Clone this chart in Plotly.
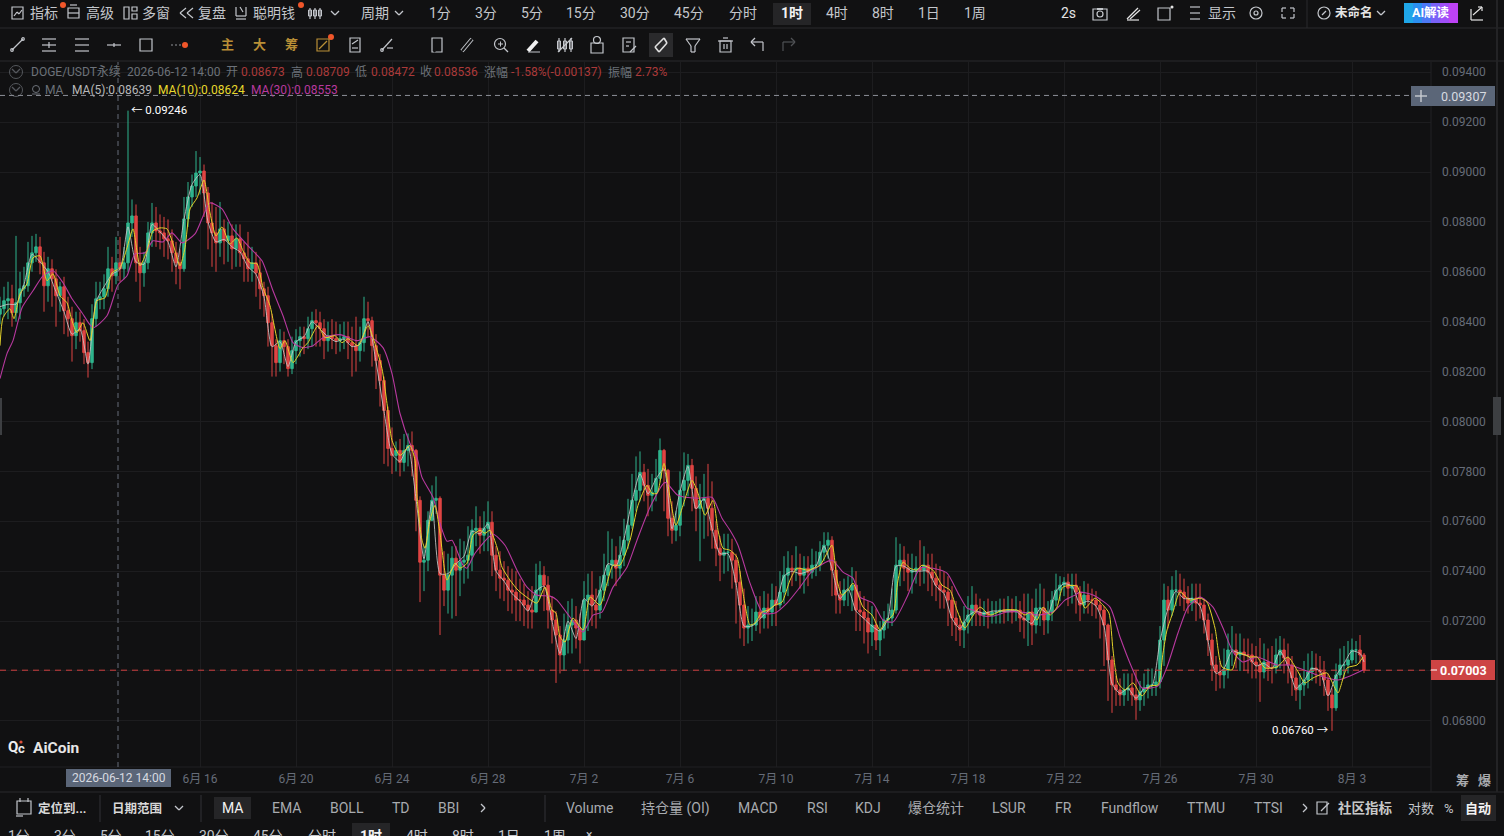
import pandas as pd
import plotly.graph_objects as go

# ---------- data (prices in 1e-5 USDT, one candle per 4 hours) ----------
close_v = [
8452,8484,8492,8436,8476,8532,8544,8636,8676,8700,
8636,8544,8612,8572,8504,8540,8444,8412,8344,8396,
8364,8276,8236,8412,8492,8500,8532,8612,8584,8636,
8612,8636,8796,8824,8636,8596,8636,8756,8796,8764,
8756,8732,8724,8676,8636,8612,8812,8900,8944,8996,
9004,8916,8796,8756,8716,8772,8724,8744,8692,8732,
8676,8652,8612,8636,8596,8532,8504,8396,8304,8236,
8324,8300,8212,8284,8324,8340,8332,8372,8404,8396,
8372,8324,8344,8332,8324,8332,8340,8316,8304,8284,
8316,8412,8404,8304,8244,8164,8044,7892,7864,7884,
7836,7884,7904,7884,7684,7436,7444,7604,7684,7692,
7384,7324,7384,7452,7404,7436,7444,7464,7564,7572,
7544,7572,7596,7464,7404,7372,7364,7324,7316,7284,
7284,7264,7244,7236,7324,7384,7344,7244,7204,7144,
7064,7124,7184,7204,7172,7124,7284,7304,7264,7244,
7324,7384,7424,7444,7412,7464,7524,7584,7684,7724,
7796,7744,7704,7716,7772,7884,7804,7612,7564,7584,
7724,7764,7824,7732,7652,7684,7692,7652,7564,7492,
7464,7476,7476,7444,7356,7264,7172,7184,7184,7236,
7212,7252,7236,7284,7264,7316,7384,7412,7404,7412,
7384,7412,7396,7424,7424,7476,7504,7524,7404,7304,
7284,7324,7324,7344,7244,7236,7212,7156,7184,7124,
7164,7204,7212,7244,7424,7444,7412,7396,7404,7412,
7404,7424,7396,7372,7344,7324,7316,7284,7212,7184,
7164,7196,7224,7264,7236,7224,7236,7224,7236,7236,
7244,7236,7244,7236,7244,7212,7204,7236,7184,7252,
7252,7204,7236,7284,7324,7344,7356,7332,7344,7316,
7264,7304,7284,7284,7264,7244,7184,7044,6944,6924,
6904,6924,6932,6904,6884,6916,6932,6944,6944,6956,
7124,7284,7244,7324,7324,7316,7292,7272,7292,7272,
7264,7204,7124,7024,6996,6984,7004,7084,7084,7064,
7076,7064,7064,7036,7024,6996,7036,7012,7012,7064,
7084,7052,7024,6972,6924,6944,6964,6996,7012,7004,
6996,6964,6904,6852,6984,7024,7024,7044,7084,7084,
7064,7003]
open_v = [
8430,8452,8484,8492,8436,8476,8532,8544,8636,8676,
8700,8636,8544,8612,8572,8504,8540,8444,8412,8344,
8396,8364,8276,8236,8412,8492,8500,8532,8612,8584,
8636,8612,8636,8796,8824,8636,8596,8636,8756,8796,
8764,8756,8732,8724,8676,8636,8612,8812,8900,8944,
8996,9004,8916,8796,8756,8716,8772,8724,8744,8692,
8732,8676,8652,8612,8636,8596,8532,8504,8396,8304,
8236,8324,8300,8212,8284,8324,8340,8332,8372,8404,
8396,8372,8324,8344,8332,8324,8332,8340,8316,8304,
8284,8316,8412,8404,8304,8244,8164,8044,7892,7864,
7884,7836,7884,7904,7884,7684,7436,7444,7604,7684,
7692,7384,7324,7384,7452,7404,7436,7444,7464,7564,
7572,7544,7572,7596,7464,7404,7372,7364,7324,7316,
7284,7284,7264,7244,7236,7324,7384,7344,7244,7204,
7144,7064,7124,7184,7204,7172,7124,7284,7304,7264,
7244,7324,7384,7424,7444,7412,7464,7524,7584,7684,
7724,7796,7744,7704,7716,7772,7884,7804,7612,7564,
7584,7724,7764,7824,7732,7652,7684,7692,7652,7564,
7492,7464,7476,7476,7444,7356,7264,7172,7184,7184,
7236,7212,7252,7236,7284,7264,7316,7384,7412,7404,
7412,7384,7412,7396,7424,7424,7476,7504,7524,7404,
7304,7284,7324,7324,7344,7244,7236,7212,7156,7184,
7124,7164,7204,7212,7244,7424,7444,7412,7396,7404,
7412,7404,7424,7396,7372,7344,7324,7316,7284,7212,
7184,7164,7196,7224,7264,7236,7224,7236,7224,7236,
7236,7244,7236,7244,7236,7244,7212,7204,7236,7184,
7252,7252,7204,7236,7284,7324,7344,7356,7332,7344,
7316,7264,7304,7284,7284,7264,7244,7184,7044,6944,
6924,6904,6924,6932,6904,6884,6916,6932,6944,6944,
6956,7124,7284,7244,7324,7324,7316,7292,7272,7292,
7272,7264,7204,7124,7024,6996,6984,7004,7084,7084,
7064,7076,7064,7064,7036,7024,6996,7036,7012,7012,
7064,7084,7052,7024,6972,6924,6944,6964,6996,7012,
7004,6996,6964,6904,6852,6984,7024,7024,7044,7084,
7084,7064]
high_v = [
8500,8540,8560,8548,8744,8600,8620,8720,8744,8752,
8740,8680,8660,8650,8610,8560,8580,8500,8460,8440,
8440,8410,8320,8470,8560,8560,8590,8700,8660,8740,
8740,8700,9246,8890,8870,8700,8680,8800,8876,8860,
8830,8820,8810,8770,8720,8690,8900,8960,8990,9084,
9060,9030,8940,8880,8860,8880,8810,8800,8790,8790,
8790,8720,8760,8700,8680,8650,8560,8540,8430,8330,
8370,8360,8330,8340,8370,8380,8380,8420,8440,8450,
8440,8410,8400,8410,8400,8390,8400,8400,8380,8420,
8380,8500,8480,8420,8350,8270,8180,8060,7976,7920,
7930,7950,7952,7960,7890,7700,7500,7640,7744,7780,
7700,7480,7470,7500,7500,7530,7520,7580,7608,7660,
7620,7640,7680,7640,7500,7480,7440,7420,7410,7400,
7370,7350,7320,7340,7430,7440,7420,7380,7300,7240,
7180,7230,7280,7290,7260,7230,7360,7390,7400,7330,
7380,7470,7560,7530,7500,7540,7610,7690,7790,7860,
7880,7830,7810,7790,7850,7932,7890,7810,7680,7640,
7800,7876,7870,7850,7780,7750,7790,7830,7760,7600,
7540,7550,7550,7530,7470,7400,7330,7260,7250,7300,
7300,7320,7310,7350,7340,7400,7460,7480,7464,7500,
7470,7460,7460,7490,7480,7520,7556,7556,7540,7440,
7360,7370,7380,7416,7400,7320,7300,7280,7260,7250,
7200,7240,7270,7330,7536,7510,7500,7470,7470,7460,
7524,7500,7470,7470,7430,7420,7400,7380,7340,7280,
7220,7260,7300,7340,7310,7290,7280,7290,7280,7280,
7290,7290,7300,7290,7300,7280,7310,7310,7290,7330,
7350,7330,7280,7320,7390,7380,7376,7390,7390,7390,
7340,7360,7350,7330,7320,7290,7260,7190,7060,6980,
6970,6990,6990,6990,7000,6960,6990,7010,7010,7000,
7180,7350,7340,7380,7404,7390,7370,7340,7350,7350,
7350,7290,7230,7150,7060,7040,7090,7150,7180,7150,
7150,7130,7130,7110,7100,7132,7110,7090,7100,7130,
7140,7130,7110,7060,7010,6990,7040,7070,7080,7070,
7060,7040,6990,6930,7030,7090,7100,7120,7130,7120,
7144,7072]
low_v = [
8390,8420,8410,8380,8400,8410,8500,8520,8600,8640,
8590,8440,8480,8460,8380,8440,8350,8340,8240,8290,
8320,8230,8176,8210,8380,8450,8450,8500,8520,8550,
8560,8570,8600,8740,8560,8480,8540,8610,8700,8700,
8690,8660,8650,8600,8550,8530,8600,8780,8860,8900,
8910,8820,8690,8620,8600,8660,8630,8640,8610,8620,
8620,8560,8560,8560,8500,8450,8420,8300,8180,8180,
8200,8230,8180,8190,8230,8260,8270,8290,8300,8300,
8300,8250,8280,8290,8270,8280,8290,8250,8180,8200,
8240,8280,8340,8220,8130,8060,7830,7820,7790,7800,
7780,7800,7820,7780,7560,7276,7320,7400,7600,7630,
7144,7260,7230,7210,7220,7300,7350,7370,7400,7500,
7470,7480,7480,7380,7320,7290,7280,7240,7230,7200,
7200,7180,7170,7170,7240,7290,7240,7170,7110,6952,
6990,7000,7070,7070,7090,7030,7160,7160,7180,7170,
7210,7280,7340,7370,7340,7370,7420,7490,7570,7640,
7680,7680,7620,7640,7680,7760,7640,7540,7510,7520,
7540,7660,7700,7640,7560,7440,7530,7540,7490,7420,
7360,7390,7400,7330,7190,7130,7100,7110,7120,7160,
7150,7170,7170,7180,7180,7250,7270,7300,7340,7360,
7330,7310,7340,7370,7380,7400,7440,7450,7300,7230,
7230,7260,7260,7240,7160,7160,7110,7070,7100,7084,
7060,7130,7170,7180,7230,7340,7360,7320,7310,7350,
7340,7350,7320,7300,7280,7250,7250,7180,7140,7120,
7100,7092,7150,7180,7180,7180,7180,7170,7190,7190,
7190,7190,7200,7190,7200,7156,7130,7100,7104,7150,
7180,7144,7150,7200,7260,7280,7300,7260,7270,7230,
7200,7230,7230,7220,7210,7130,7020,6880,6832,6860,
6860,6860,6880,6860,6804,6840,6860,6890,6900,6900,
6930,7020,7170,7220,7260,7260,7240,7230,7240,7200,
7210,7150,7060,6960,6920,6930,6930,6970,7020,7010,
7000,7000,6990,6970,6970,6876,6970,6960,6950,6990,
7010,6990,6950,6900,6880,6846,6900,6930,6960,6950,
6940,6900,6840,6760,6840,6970,6970,6990,7030,7030,
7030,6992]

ma5_hours = [0,8,16,24,32,40,48,56,64,72,80,88,96,104,112,120,128,136,144,152,160,168,176,184,192,200,208,216,224,232,240,248,256,264,272,280,288,296,304,312,320,328,336,344,352,360,368,376,384,392,400,408,416,424,432,440,448,456,464,472,480,488,496,504,512,520,528,536,544,552,560,568,576,584,592,600,608,616,624,632,640,648,656,664,672,680,688,696,704,712,720,728,736,744,752,760,768,776,784,792,800,808,816,824,832,840,848,856,864,872,880,888,896,904,912,920,928,936,944,952,960,968,976,984,992,1000,1008,1016,1024,1032,1040,1048,1056,1064,1072,1080,1088,1096,1104,1112,1120,1128,1136,1144,1152,1160,1168,1176,1184,1192,1200,1208,1216,1224,1232,1240,1248,1256,1264,1272,1280,1288,1296,1304,1312,1320,1328,1336,1344,1352,1360,1364]
ma5_v = [8460,8470,8470,8550,8670,8640,8600,8520,8440,8350,8370,8230,8480,8540,8590,8610,8780,8640,8630,8790,8760,8720,8620,8810,8950,8990,8800,8720,8730,8700,8680,8620,8590,8500,8300,8320,8220,8320,8340,8400,8370,8340,8320,8330,8300,8310,8400,8240,8040,7870,7840,7900,7690,7450,7680,7390,7390,7430,7460,7560,7550,7590,7400,7360,7310,7280,7240,7320,7340,7200,7070,7200,7130,7290,7260,7320,7430,7420,7530,7680,7790,7710,7770,7810,7570,7720,7820,7650,7690,7570,7470,7470,7350,7180,7180,7210,7240,7270,7380,7400,7390,7400,7420,7500,7410,7290,7330,7240,7210,7180,7160,7210,7420,7420,7400,7400,7400,7340,7310,7210,7170,7220,7240,7230,7240,7240,7240,7240,7210,7190,7250,7230,7320,7350,7340,7270,7280,7260,7180,6950,6910,6930,6890,6930,6940,7120,7250,7320,7290,7290,7260,7120,6990,7010,7080,7070,7060,7020,7030,7010,7080,7020,6930,6960,7010,7000,6900,6980,7030,7080,7070,7036]

ma10_hours = [0,3,10,14,20,27,33,40,47,53,60,67,72,77,83,90,97,105,112,120,127,133,140,147,153,160,167,173,180,185,190,197,204,210,216,222,230,237,243,250,257,263,270,280,285,293,303,308,318,325,335,342,348,358,368,373,382,387,392,400,410,415,417,422,425,430,435,440,447,455,460,467,473,480,485,490,497,502,510,518,528,537,545,552,556,560,565,573,583,590,600,607,613,620,630,638,647,652,657,664,670,676,683,692,698,705,713,718,723,730,737,743,750,755,762,768,775,782,790,797,808,820,832,837,842,848,853,863,872,880,885,893,898,903,910,917,922,933,942,950,957,965,972,980,990,1003,1017,1025,1030,1037,1043,1050,1057,1063,1077,1085,1095,1103,1109,1113,1118,1125,1133,1142,1150,1158,1163,1167,1173,1180,1190,1200,1207,1215,1222,1232,1238,1250,1257,1265,1277,1288,1297,1305,1313,1327,1332,1338,1347,1357,1363]
ma10_v = [8304,8416,8452,8412,8512,8552,8656,8664,8564,8592,8504,8476,8404,8356,8396,8324,8484,8496,8596,8616,8696,8772,8624,8684,8764,8776,8772,8712,8624,8696,8852,8896,8968,8836,8744,8780,8712,8736,8684,8636,8632,8536,8464,8292,8324,8236,8296,8316,8384,8336,8344,8316,8332,8304,8384,8336,8212,8072,7924,7864,7904,7844,7696,7524,7492,7604,7664,7552,7364,7432,7412,7432,7544,7564,7552,7564,7496,7416,7364,7324,7292,7272,7336,7244,7232,7136,7116,7212,7164,7296,7264,7352,7424,7424,7524,7664,7744,7712,7712,7832,7696,7584,7664,7764,7712,7624,7684,7564,7492,7484,7456,7312,7184,7192,7236,7244,7264,7276,7364,7412,7404,7424,7504,7364,7304,7324,7352,7256,7224,7164,7196,7224,7364,7436,7412,7404,7424,7404,7344,7324,7244,7172,7216,7256,7224,7244,7244,7224,7236,7204,7256,7224,7256,7336,7340,7252,7292,7264,7232,7084,6952,6924,6952,6900,6940,6944,7072,7164,7236,7316,7284,7292,7276,7172,7016,7004,7072,7056,7056,7012,7016,7056,7004,6952,6972,6992,6956,6912,7012,7024,7056]

ma30_hours = [0,7,13,22,33,43,53,63,72,82,93,107,118,127,135,145,153,163,172,182,195,210,222,233,250,262,273,283,293,303,313,323,340,357,370,383,392,400,410,417,422,433,440,447,452,463,467,475,493,505,517,527,537,550,557,567,583,593,602,613,627,637,650,665,678,697,712,722,730,738,750,763,775,787,800,813,832,843,853,860,873,883,893,907,920,933,947,958,967,973,983,993,1007,1022,1037,1053,1065,1075,1080,1093,1110,1120,1132,1142,1158,1167,1178,1188,1200,1213,1223,1233,1243,1257,1277,1290,1317,1338,1363]
ma30_v = [8172,8272,8324,8456,8524,8584,8604,8556,8492,8436,8376,8424,8548,8584,8672,8676,8724,8720,8756,8716,8752,8876,8852,8772,8696,8644,8524,8424,8316,8296,8304,8336,8348,8324,8340,8296,8192,8032,7912,7856,7776,7696,7592,7520,7524,7424,7412,7472,7548,7504,7404,7336,7304,7300,7284,7232,7156,7224,7236,7336,7416,7524,7656,7756,7704,7692,7696,7612,7564,7504,7352,7232,7232,7272,7336,7404,7444,7396,7372,7296,7272,7204,7196,7296,7412,7412,7392,7312,7252,7244,7220,7220,7236,7236,7224,7236,7284,7304,7316,7304,7256,7136,7012,6932,6940,7016,7152,7256,7296,7256,7172,7076,7036,7056,7024,7024,6984,6964,7004]

y_ticks = [0.068,0.070,0.072,0.074,0.076,0.078,0.080,0.082,0.084,0.086,0.088,0.090,0.092,0.094]
x_tick_dates = ["2026-06-16","2026-06-20","2026-06-24","2026-06-28","2026-07-02","2026-07-06","2026-07-10","2026-07-14","2026-07-18","2026-07-22","2026-07-26","2026-07-30","2026-08-03"]
x_tick_text = ["6月 16","6月 20","6月 24","6月 28","7月 2","7月 6","7月 10","7月 14","7月 18","7月 22","7月 26","7月 30","8月 3"]
last_price = 0.07003
mark_price = 0.09307
cross_time = "2026-06-12 14:00"

# ---------- page constants ----------
W, H = 1504, 836
BG = "#111112"
FONT = "Roboto, 'Noto Sans CJK SC', sans-serif"
UI = "#c4c7cc"
DIM = "#6c7179"
UP, DOWN = "#2fb48d", "#e04543"
RED_TXT = "#ab3a3a"
base = pd.Timestamp("2026-06-07 16:00")
to_time = lambda hs: [base + pd.Timedelta(hours=h) for h in hs]
scale = lambda vs: [v / 1e5 for v in vs]
candle_time = to_time(range(0, 4 * len(close_v), 4))

fig = go.Figure()
fig.add_trace(go.Candlestick(
    x=candle_time, open=scale(open_v), high=scale(high_v), low=scale(low_v), close=scale(close_v),
    increasing=dict(line=dict(color=UP, width=1), fillcolor=UP),
    decreasing=dict(line=dict(color=DOWN, width=1), fillcolor=DOWN),
    whiskerwidth=0, hoverinfo="skip", showlegend=False))
for hs, vs, col, wd in [(ma5_hours, ma5_v, "rgba(200,200,200,0.85)", 1.0),
                        (ma30_hours, ma30_v, "#b8399f", 1.1),
                        (ma10_hours, ma10_v, "#e3d32a", 1.0)]:
    fig.add_trace(go.Scatter(x=to_time(hs), y=scale(vs), mode="lines", hoverinfo="skip", showlegend=False,
                             line=dict(color=col, width=wd, shape="spline", smoothing=0.6)))

shapes, annos = [], []
px = lambda x: x / W
py = lambda y: 1 - y / H

def L(x0, y0, x1, y1, c=UI, w=1.2, dash=None):
    shapes.append(dict(type="line", xref="paper", yref="paper", x0=px(x0), y0=py(y0), x1=px(x1), y1=py(y1),
                       line=dict(color=c, width=w, dash=dash)))

def R(x0, y0, x1, y1, fill=None, c=None, w=1.2):
    shapes.append(dict(type="rect", xref="paper", yref="paper", x0=px(x0), y0=py(y0), x1=px(x1), y1=py(y1),
                       fillcolor=fill or "rgba(0,0,0,0)", line=dict(color=c or "rgba(0,0,0,0)", width=w if c else 0)))

def C(cx, cy, r, fill=None, c=None, w=1.2):
    shapes.append(dict(type="circle", xref="paper", yref="paper", x0=px(cx - r), y0=py(cy - r), x1=px(cx + r), y1=py(cy + r),
                       fillcolor=fill or "rgba(0,0,0,0)", line=dict(color=c or "rgba(0,0,0,0)", width=w if c else 0)))

def T(x, y, s, size=13, color=UI, anchor="center", bold=False):
    annos.append(dict(xref="paper", yref="paper", x=px(x), y=py(y), text=f"<b>{s}</b>" if bold else s, showarrow=False,
                      xanchor=anchor, yanchor="middle", font=dict(size=size, color=color, family=FONT), borderpad=0, borderwidth=0))

def chev(x, y, c=UI):
    L(x - 4, y - 2, x, y + 2, c); L(x, y + 2, x + 4, y - 2, c)

# frame lines
for y in (28, 61, 792):
    L(0, y, W, y, "#2a2a2c", 1.2)
L(1431, 62, 1431, 792, "#222224", 1)
L(0, 767, 1431, 767, "#202022", 1)
L(1307, 0, 1307, 28, "#2a2a2c", 1)
L(1497, 0, 1497, 792, "#232325", 2)
R(0, 398, 2, 435, "#3d3f42")
R(1493, 397, 1501, 435, "#3d3f42")

# top toolbar
R(773, 3, 811, 25, "#252527")
for x, s in [(44, "指标"), (100, "高级"), (156, "多窗"), (212, "复盘"), (274, "聪明钱"), (375, "周期"),
             (440, "1分"), (486, "3分"), (532, "5分"), (581, "15分"), (635, "30分"), (689, "45分"), (743, "分时"),
             (837, "4时"), (883, "8时"), (929, "1日"), (975, "1周"), (1222, "显示")]:
    T(x, 13, s, 14)
T(792, 13, "1时", 14, "#f2f2f2", bold=True)
T(1068, 13, "2s", 14, "#e4e4e4")
T(1354, 13, "未命名", 12.5, "#e4e4e4", bold=True)
for i, col in enumerate(["#1fa6e8", "#2b8ff0", "#4d79f5", "#7a62f8", "#a04ff8", "#bd42f5"]):
    R(1404 + i * 9, 3, 1413 + i * 9, 23, col)
T(1431, 13, "AI解读", 12.5, "#ffffff", bold=True)
for cx, cy in [(63, 5), (301, 5), (331, 37)]:
    C(cx, cy, 3, "#f0562a")
R(12, 7, 23, 19, c=UI); L(14, 16, 17, 12); L(17, 12, 19, 14); L(19, 14, 22, 10)
R(68, 8, 79, 18, c=UI); L(70, 5, 77, 5); L(68, 13, 79, 13)
R(124, 7, 129, 19, c=UI); R(132, 7, 137, 11, c=UI); R(132, 14, 137, 19, c=UI)
for a in (0, 7):
    L(186 + a, 8, 180 + a, 13); L(180 + a, 13, 186 + a, 18)
L(236, 7, 236, 16); L(246, 7, 246, 16); L(236, 19, 246, 19); L(236, 16, 246, 16); L(240, 7, 243, 12)
for a in (310, 315, 320):
    L(a, 8, a, 19); R(a - 1.5, 10, a + 1.5, 16, c=UI, w=1)
for x in (335, 399):
    chev(x, 13)
R(1093, 9, 1107, 20, c=UI); C(1100, 14, 3, c=UI); L(1097, 9, 1103, 9, UI, 2)
L(1127, 19, 1138, 8, "#e4e4e4"); L(1130, 19, 1140, 10, "#e4e4e4"); L(1127, 20, 1139, 20, "#e4e4e4")
R(1158, 8, 1170, 20, c=UI); C(1172, 7, 1.5, "#e4e4e4")
for y in (7, 13, 19):
    L(1190, y, 1200, y, UI)
C(1256, 13, 6, c=UI); C(1256, 13, 2, c=UI)
for xa, ya, dx, dy in [(1282, 8, 4, 4), (1294, 8, -4, 4), (1282, 18, 4, -4), (1294, 18, -4, -4)]:
    L(xa, ya, xa + dx, ya, UI); L(xa, ya, xa, ya + dy, UI)
C(1324, 13, 6, c=UI); L(1322, 15, 1326, 11, UI); chev(1381, 13)
L(1471, 9, 1471, 20, "#e4e4e4"); L(1471, 20, 1483, 20, "#e4e4e4"); L(1473, 15, 1482, 7, "#e4e4e4"); L(1478, 7, 1482, 7, "#e4e4e4"); L(1482, 7, 1482, 11, "#e4e4e4")

# drawing toolbar
R(649, 33, 673, 57, "#2a2a2c")
L(12, 50, 23, 39); C(12, 50, 1.3, c=UI); C(23, 39, 1.3, c=UI)
for y in (39, 45, 51):
    L(42, y, 56, y)
    L(75, y, 89, y)
L(49, 42, 49, 48, UI); L(107, 45, 121, 45); L(114, 43, 114, 47, UI)
R(140, 39, 152, 51, c=UI)
for x in (172, 176, 180):
    C(x, 45, 0.7, UI)
C(185, 45, 3, "#f0562a")
for x, s in [(227, "主"), (259, "大"), (291, "筹")]:
    T(x, 45, s, 13, "#b98f36", bold=True)
R(317, 39, 329, 51, c="#b98f36"); L(319, 49, 327, 41, "#b98f36")
R(350, 38, 360, 52, c=UI); L(352, 44, 358, 40); L(352, 48, 358, 48)
L(382, 50, 392, 39); C(382, 50, 1.3, c=UI); L(387, 48, 393, 48)
R(432, 38, 442, 52, c=UI); L(434, 52, 437, 48, BG, 2)
L(462, 51, 472, 39, UI, 4); L(462, 51, 472, 39, BG, 2)
C(500, 44, 5.5, c=UI); L(498, 44, 503, 44, UI, 1); L(500.5, 41.5, 500.5, 46.5, UI, 1); L(504, 48, 508, 52)
L(528, 51, 537, 41, "#f0f0f0", 4); L(528, 52, 540, 52, UI, 1)
for x in (559, 565, 571):
    L(x, 38, x, 52); R(x - 1.5, 41, x + 1.5, 49, c=UI, w=1)
L(558, 52, 572, 38)
R(591, 43, 603, 53, c=UI); C(597, 40, 3.5, c=UI)
R(623, 38, 634, 52, c=UI); L(626, 42, 631, 42); L(626, 46, 629, 46); L(630, 52, 636, 46)
L(655, 47, 664, 38, "#e0e0e0", 1.6); L(659, 52, 667, 43, "#e0e0e0", 1.6); L(655, 47, 659, 52, "#e0e0e0", 1.6); L(664, 38, 667, 43, "#e0e0e0", 1.6)
L(686, 39, 700, 39); L(686, 39, 691, 46); L(700, 39, 695, 46); L(691, 46, 691, 52); L(695, 46, 695, 52); L(691, 52, 695, 52)
R(720, 41, 731, 52, c=UI); L(718, 41, 733, 41); L(723, 38, 728, 38); L(724, 44, 724, 49); L(727, 44, 727, 49)
L(751, 42, 763, 42); L(751, 42, 755, 38); L(751, 42, 755, 46); L(763, 42, 763, 51)
L(795, 42, 783, 42, "#505255"); L(795, 42, 791, 38, "#505255"); L(795, 42, 791, 46, "#505255"); L(783, 42, 783, 51, "#505255")

# legend lines
C(16, 72, 6.5, c="#55585d", w=1); chev(16, 71, "#55585d")
C(16, 90, 6.5, c="#55585d", w=1); chev(16, 89, "#55585d")
C(36, 89, 3.5, c=DIM, w=1); L(32, 94, 40, 94, DIM, 1)
for x, s, col in [(31, "DOGE/USDT永续", DIM), (127, "2026-06-12 14:00", DIM), (226, "开", DIM), (241, "0.08673", RED_TXT),
                  (291, "高", DIM), (306, "0.08709", RED_TXT), (355, "低", DIM), (371, "0.08472", RED_TXT),
                  (420, "收", DIM), (434, "0.08536", RED_TXT), (484, "涨幅", DIM), (511, "-1.58%(-0.00137)", RED_TXT),
                  (608, "振幅", DIM), (635, "2.73%", RED_TXT)]:
    T(x, 72, s, 12, col, "left")
for x, s, col in [(45, "MA", DIM), (72, "MA(5):0.08639", "#b9b9b9"), (158, "MA(10):0.08624", "#e8d92c"), (251, "MA(30):0.08553", "#b8399f")]:
    T(x, 90, s, 12, col, "left")

# price marks and labels
shapes.append(dict(type="line", xref="x", yref="paper", x0=cross_time, x1=cross_time, y0=py(767), y1=py(62),
                   line=dict(color="#666c78", width=1, dash="5px,4px")))
shapes.append(dict(type="line", xref="paper", yref="y", x0=0, x1=px(1411), y0=mark_price, y1=mark_price,
                   line=dict(color="#8d9099", width=1, dash="5px,4px")))
shapes.append(dict(type="line", xref="paper", yref="y", x0=0, x1=px(1431), y0=last_price, y1=last_price,
                   line=dict(color="#cf3f3f", width=1, dash="6px,5px")))
R(1411, 86, 1431, 106, "#5b6678"); L(1415, 96, 1427, 96, "#c9ccd2", 1.4); L(1421, 90, 1421, 102, "#c9ccd2", 1.4)
R(1431, 86, 1495, 106, "#5b6678")
T(1463, 96, f"{mark_price:.5f}", 12.5, "#d7dae0")
R(1431, 660, 1495, 680, "#cd4444")
L(1431, 670, 1437, 670, "#ffffff", 1)
T(1463, 670, f"{last_price:.5f}", 12.5, "#ffffff", bold=True)
R(66, 769, 171, 787, "#5b6678")
T(118.5, 778, cross_time, 12, "#d7dae0")
T(131, 110, "← 0.09246", 11.5, "#ffffff", "left", bold=False)
T(1329, 730, "0.06760 →", 11.5, "#ffffff", "right", bold=False)
T(1462, 780, "筹", 13, "#a9abaf", bold=True)
T(1484, 780, "爆", 13, "#a9abaf", bold=True)

# watermark
T(8, 747, "Q", 15, "#eeeeee", "left", bold=True)
T(18, 748, "c", 13, "#eeeeee", "left", bold=True)
C(21, 742, 1.6, "#e0503a")
T(33, 748, "AiCoin", 15.5, "#e6e6e6", "left", bold=True)

# bottom toolbar
R(214, 797, 251, 819, "#252527"); R(1461, 795, 1496, 821, "#252527"); R(352, 823, 390, 836, "#252527")
for x in (100, 201, 545):
    L(x, 795, x, 822, "#333336", 1)
R(17, 801, 31, 814, c=UI); L(16, 816, 23, 816); L(20, 798, 20, 802); L(28, 798, 28, 802)
T(62, 808, "定位到...", 12.5, "#d8d8d8", bold=True)
T(137, 808, "日期范围", 12.5, "#d8d8d8", bold=True)
chev(179, 808)
T(232, 808, "MA", 14, "#f2f2f2")
for x, s in [(286, "EMA"), (347, "BOLL"), (401, "TD"), (449, "BBI"), (589, "Volume"), (675, "持仓量 (OI)"), (758, "MACD"),
             (817, "RSI"), (868, "KDJ"), (936, "爆仓统计"), (1009, "LSUR"), (1063, "FR"), (1130, "Fundflow"), (1206, "TTMU"), (1268, "TTSI")]:
    T(x, 808, s, 14, "#a8abaf")
L(481, 804, 485, 808, UI); L(485, 808, 481, 812, UI)
L(1303, 804, 1307, 808, UI); L(1307, 808, 1303, 812, UI)
R(1317, 802, 1327, 814, c=UI); L(1321, 811, 1329, 803)
T(1365, 808, "社区指标", 13.5, "#c8c8c8", bold=True)
T(1421, 808, "对数", 13, UI)
T(1449, 808, "%", 13, UI)
T(1478, 808, "自动", 13, "#f2f2f2", bold=True)
for x, s in [(19, "1分"), (65, "3分"), (111, "5分"), (160, "15分"), (214, "30分"), (268, "45分"), (322, "分时"),
             (417, "4时"), (463, "8时"), (509, "1日"), (555, "1周")]:
    T(x, 836, s, 14)
T(371, 836, "1时", 14, "#f2f2f2", bold=True)
T(589, 835, "×", 12)

grid = "#1d1d1f"
fig.update_layout(
    width=W, height=H, autosize=False, margin=dict(l=0, r=0, t=0, b=0), paper_bgcolor=BG, plot_bgcolor=BG,
    boxgap=0.12, shapes=shapes, annotations=annos, showlegend=False, hovermode=False,
    font=dict(family=FONT),
    xaxis=dict(domain=[0, 1431 / W], type="date", range=[base, base + pd.Timedelta(hours=1431)],
               tickmode="array", tickvals=x_tick_dates, ticktext=x_tick_text, ticks="",
               tickfont=dict(size=12, color="#666c78", family=FONT), gridcolor=grid, gridwidth=1,
               showline=False, zeroline=False, rangeslider=dict(visible=False), ticklabelstandoff=3, fixedrange=True),
    yaxis=dict(domain=[1 - 767 / H, 1 - 62 / H], side="right", range=[0.06615, 0.09441], anchor="x",
               tickmode="array", tickvals=y_ticks, tickformat=".5f", ticks="",
               tickfont=dict(size=12, color="#666c78", family=FONT), gridcolor=grid, gridwidth=1,
               showline=False, zeroline=False, ticklabelstandoff=10, fixedrange=True),
)
fig.write_html("out.html", config=dict(displayModeBar=False, responsive=False),
               post_script="document.body.style.margin='0';document.documentElement.style.overflow='hidden';document.body.style.background='#111112';")
